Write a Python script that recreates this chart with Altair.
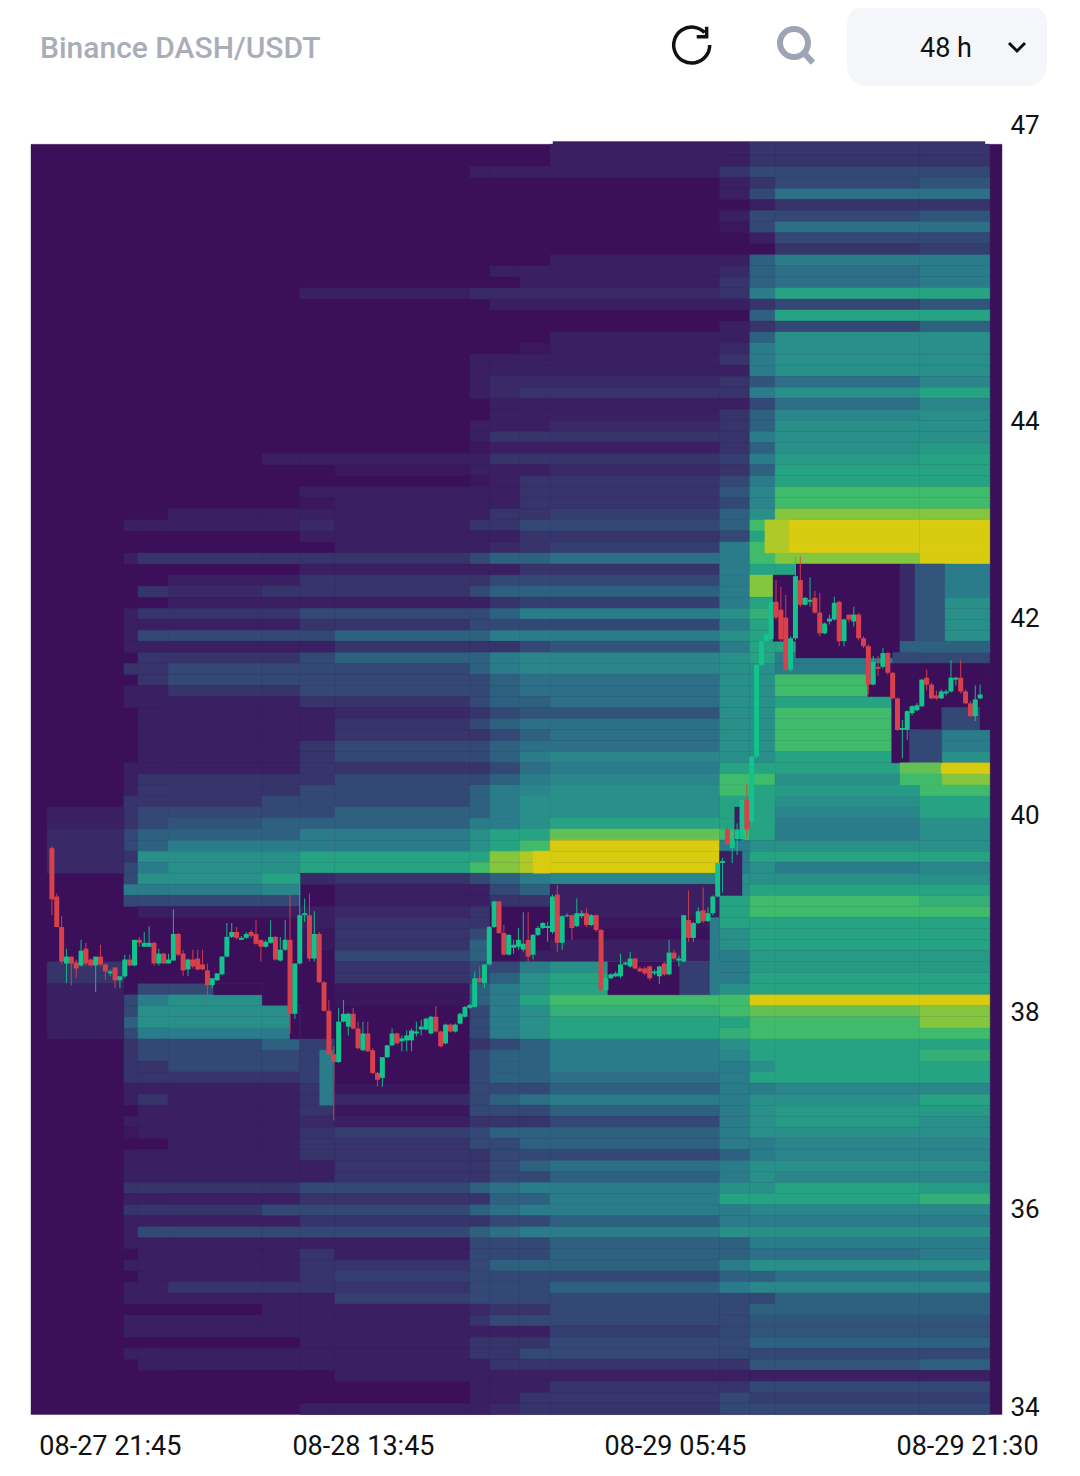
import altair as alt
import pandas as pd

alt.data_transformers.disable_max_rows()

# colour levels of the liquidity map
level_values = [0, 1, 2, 3, 4, 5, 6, 7, 8, 9, 10]
level_colors = ["#3b0f59", "#3a2062", "#37336b", "#334874", "#2e6180", "#2b7c8b", "#289088",
                "#25a382", "#40ba6b", "#85c63f", "#d9cb10"]

# time columns, in 15-minute candle numbers
col_edges = [14.8, 17.7, 23.9, 43.2, 51.0, 58.2, 86.0, 90.1, 96.3, 102.5, 137.4, 143.6, 148.8, 178.6, 193.0]
row_count = 115
top_price = 46.792
row_step = 0.11207

# one row per price band, top to bottom
heat_rows = [
[0,0,0,0,0,0,0,0,0,1,1,2,2,2],
[0,0,0,0,0,0,0,0,0,1,1,2,2,2],
[0,0,0,0,0,0,1,1,1,1,2,3,3,3],
[0,0,0,0,0,0,0,0,0,0,1,2,3,3.5],
[0,0,0,0,0,0,0,0,0,0,1,3,4.5,4.5],
[0,0,0,0,0,0,0,0,0,0,0,1,2,2],
[0,0,0,0,0,0,0,0,0,0,1,3,3,3.5],
[0,0,0,0,0,0,0,0,0,0,0.5,3,4.5,4.5],
[0,0,0,0,0,0,0,0,0,0,0,1,3,3],
[0,0,0,0,0,0,0,0,0,0,0,0,2,2.5],
[0,0,0,0,0,0,0,0,0,1,1,4,5,5],
[0,0,0,0,0,0,0,1,1,1,1.5,4,4.5,5],
[0,0,0,0,0,0,0,0,1,1,2,4,4.5,5],
[0,0,0,0,1,1,1.5,1.5,1.5,1.5,2,5,7,7],
[0,0,0,0,0,0,0,1,1,1,1,2,3,3.5],
[0,0,0,0,0,0,0,0,0,0,0,4,7,7],
[0,0,0,0,0,0,0,0,0,0,1,2,3,4],
[0,0,0,0,0,0,0,0,0,1,1,4,6,6],
[0,0,0,0,0,0,0,0,0.5,1,1.5,5,6,6],
[0,0,0,0,0,0,1,1,1,1,2,5,6,6],
[0,0,0,0,0,0,1,1,1,1,1,5,6,6],
[0,0,0,0,0,0,1,1.5,1.5,1.5,2,3.5,4.5,5.5],
[0,0,0,0,0,0,1,1.5,2,2,2,5,6,7],
[0,0,0,0,0,0,0,1,1,1,1,3,4.5,5.5],
[0,0,0,0,0,0,0,1,1,1,2,4,5.5,6],
[0,0,0,0,0,0,1,1,1,1.5,2,4,6,6],
[0,0,0,0,0,0,1,2,2,2,2,5,6,6],
[0,0,0,0,0,0,0.5,1,1,1,2,4,6,6.5],
[0,0,0,1,1,1,1,2,2,2,2.5,5,6.5,7],
[0,0,0,0,0,0.5,1,1,1,1.5,2,4,7,7],
[0,0,0,0,0,0,0.5,1,2,2,3,5,7,7],
[0,0,0,0,1,1,1,1,2,2,3.5,5.5,8,8],
[0,0,0,0,0.5,1,1,1,2,2,3,5.5,8,8],
[0,0,1,1,1,1,1,2,2,2.5,4,6,9,9],
[1,1,1,1,1.5,1,2,2,3,3,4,8,10,10],
[0,0,0,0,1,1,1,1,2,2,3,7,10,10],
[0,0,0,0,0,1,1,1.5,2,2.5,5,8,10,10],
[1,2,2,2,2,2,3,4,4,4.5,5,8,9,10],
[0,0,0,0,1,1,1,1,2,2,5,7,7,5],
[0,0,1,1,2,2,2,3,3,3,5,9,7,5],
[0,2,1.5,2,2,2,3,4,4,4,5,9,7,5],
[0,0,1,1,1,1,1,2,2.5,2.5,5,7,7,6],
[1,2,2,2,3,3,3,4,5,5,6,7.5,7,6],
[1,1,1,1,2,2,3,3,3,3,5,7,7,6],
[1,3,3,3,3,4,4,5,5,5,6,7,7,6],
[1,1,1,1,1,2,2,2,3,3.5,5,7,7,4],
[0,2,2,2,3,4,4,5,5.5,5.5,6,7,5,3],
[2,2,3,3,3,3,4,5,5.5,5.5,6,6,5,3],
[0,2,3,3,3,3,3,4,4.5,4.5,6,6,8,3],
[1,1,2,2,3,3,3,4,4.5,4.5,6,6,8,3],
[1,1,1,1,2,2,3,4,4,4.5,6,6,7,3],
[0,1,1,1,1,1.5,2,3,3.5,3.5,6,6,8,3],
[0,1,1,1,1,2,3,4,4.5,4.5,6,6,8,3],
[0,1,1,1,1,2,2,3,4,4.5,6,6,8,5],
[0,1,1,1,2,3,3,4,4.5,4.5,6,6,8,5],
[0,1,1,1,2,3,3,4,5,5.5,6,6,7,6],
[1,1,1,1,2,2,2,3,4.5,5,7,7,7,10],
[1,2,2,2,2,3,3,4,5,5.5,8,8,6,9],
[1,2,2,2,3,3,4,5,5.5,6,8,7,6.5,8],
[2,2,2,3,3,3,4,5,6,6,7,7,6,7],
[2,3,3,3,3,4,4,5,6,6,7,7,5.5,7],
[2,3,3.5,4,4,4,5,5,6,7,7,7,5,6],
[3,4,4,4,5,5,6,7,7,8.5,8,7,5,6],
[3,4,5,5,5,5,6,7,8,10,5,6,6,6],
[2,6,6,6,7,7,7,9,9.5,10,5,7,7,7],
[3,5,6,6,7,7,8,9,9.5,10,5,6,5,5.5],
[3,6,6,7,1.5,2,3,4,5,5.5,6,6,6,6],
[5,5,5,5.5,0,1,1,3,4,1,6,7,7,7],
[3,3,3,3,0,1,1,2,2,1,7,8,8,7.5],
[0,1,1,1,1,1.5,2,0,0,1,7,8,8,8],
[0,0,0,0,1,2,2,0,0,0.5,7,7,7,7],
[0,0,0,0,0.5,2,3,0,0,0,6,7,7,7],
[0,0,0,0,0.5,2,4,0,0,1,6,7,7,7],
[0,0,0,0,0,3,4,0,1,1,5,6.5,6.5,6.5],
[0,0,0,0,0,2,3,3,5,6,5,6.5,6.5,6.5],
[0,0,0,0,0,2,3,4,6,7,5,7,7,7],
[0,3,3,0,0,0.5,4,5,6,7,6,7,7,7],
[3,5,6,0,0,0.5,4,5,7,8,8,10,10,10],
[3,6,6,6,0,0,3,5,6,7.5,8,8.5,8.5,9],
[4,6,6,6,0,0,3,5,6,7,7,8,8,9],
[3,5,5,5,0,0,3,5,6,7,7.5,8,8,8],
[2,3,3,4,2.5,0,2,3,4,5,6,7,7,7],
[2,3,3,3,2.5,0,3,4,4,5,5.5,7,7,7.5],
[2,2,3,3,2.5,0,3,4,4,5,5,6,7,7],
[2,2,2,2,2.5,0,3,4,4,4.5,5,7,7,7],
[1,1,1,1,2,0.5,3,3,3,4,5,5,5.5,5.5],
[1,2,1,1,2,1.5,3,4,4.5,5,5,6,6,7],
[0,1,1,1,2,0.5,3,3,3,4,5,6,6.5,6.5],
[1,1,1,1,1.5,1,2,2,2,3,5,6,6.5,6],
[0.5,1,1,1,2,2.5,3,4,4,4,5,6,6,6],
[0,0,1,1,2,2,3,3,4,4,5,5,5.5,5.5],
[1,1,1,1,2,2,2,3,3,3,4,5,5.5,5.5],
[1,1,1,1,1,2,2,3,4,4.5,5,6,6,6],
[1,1,1,1,1,2,2,3,3,4,5,6,5.5,5.5],
[2,2,2,2,3,3,4,4.5,5,5,6,6,7,6.5],
[1,1,1,1,2,2,2,4,4,5,7,7,7,7.5],
[2,2,2,3,3,3,4,4.5,5,5,5,5.5,5.5,5.5],
[1,1,1,1,2,2,2,3,3,4,5,5,5,5],
[1,3,3,3,3,3,4,4.5,5,5,6,6,6,6],
[1,1,1,1,1,1,3,3,3,4,4,5,5,5],
[0,1,1,1,2,1,3,3,3,4,4,4.5,4.5,5],
[1,1,1,1,2,2,3,4,4,4,5,6,6,6],
[0,1,1,1,2,2.5,3,3,3,3,4,4,4.5,4.5],
[1,1,2,2,2,2,3,3,3,4,5,5.5,5.5,5.5],
[1,1,1,1,1,2.5,3,3,3,3,3,3,4,4],
[0,0,0,1,1,1,1.5,2,2,3,3,4,4,4],
[1,1,1,1,1,1,2,3,3,3,3,3.5,3.5,3.5],
[1,1,1,1,1,1,1,1,1,2.5,3,3.5,3.5,3.5],
[0,0,0,0,1,1,2,2,2,3,3,4,4,4],
[1,1,1,1,1,1,2,2,3,3,3,3,3,3],
[0,1,1,1,1,1,1,2,2,2,2,3.5,3.5,4],
[0,0,0,0,0,1,1,1,1,1,1,1,1,1],
[0,0,0,0,0,0,1,1,1,2,2,3,3,3],
[0,0,0,0,0,0,1,1,2,2,3,2.5,2.5,2.5],
[0,0,0,0,1,1,1,1.5,2,2,3,3,3,3],
]

# local areas on top of the columns: first candle, last candle, first row, last row, level
patch_x0 = [-4.3, 103.1, 143.6, -1, -1, -1, -1, 33.3, 49, 99, 114.4, 129.2, 135.4, 137.4, 140.5, 148.8, 146.7, 153.1,
            148.4, 174.5, 177.6, 174.5, 173, 167.9, 172.8, 172.8, 183.1, 191, 172.8, 176.5, 174.5, 174.5, 55.1]
patch_x1 = [195.5, 143.6, 192, 14.8, 14.8, 14.8, 14.8, 43.2, 51, 102.5, 129.2, 135.4, 137.4, 142, 142.2, 148.8, 151.6, 174.5,
            153.1, 177.6, 183.7, 193, 178.6, 172.8, 193, 183.1, 191, 193, 176.5, 183.1, 182.9, 183.1, 57.8]
patch_r0 = [0, -0.25, -0.25, 60, 62, 74, 76, 76, 78, 64, 74, 74, 70, 64, 60, 39, 34, 38,
            39, 38, 38, 45, 46, 47, 47, 51, 51, 51, 53, 53, 56, 57, 82]
patch_r1 = [115, 0, 0, 62, 66, 76, 81, 77, 81, 66, 77, 77, 77, 68, 63, 41, 37, 46.5,
            45, 45, 45, 46, 47, 50, 51, 53, 53, 53, 56, 56, 57, 58, 87]
patch_level = [0, 1, 2, 1, 1.5, 2, 1, 0, 0, 10, 0, 2.5, 5, 1, 1, 9, 9.5, 0,
               0, 1.5, 3.5, 4, 3, 0, 0, 0, 3, 0, 0, 3, 8.5, 8, 5]

# 15-minute candles
candle_open = [39.65,39.16,38.85,38.48,38.55,38.49,38.46,38.63,38.52,38.46,38.55,38.47,38.38,38.44,38.31,38.35,
38.52,38.46,38.72,38.65,38.65,38.69,38.48,38.58,38.48,38.51,38.78,38.58,38.42,38.52,38.53,38.47,
38.41,38.26,38.31,38.37,38.55,38.75,38.80,38.72,38.74,38.80,38.78,38.72,38.65,38.69,38.75,38.51,
38.62,38.72,37.97,38.48,38.97,38.97,38.53,38.78,38.29,38.00,37.56,37.48,37.89,37.84,37.97,37.82,
37.60,37.77,37.60,37.37,37.32,37.53,37.65,37.77,37.69,37.70,37.70,37.77,37.81,37.81,37.77,37.94,
37.79,37.67,37.86,37.79,37.87,37.94,38.03,38.04,38.33,38.28,38.47,38.85,39.11,38.79,38.57,38.64,
38.65,38.62,38.72,38.57,38.77,38.84,38.84,38.80,39.18,38.69,38.96,38.97,38.86,38.96,38.99,38.87,
38.97,38.82,38.21,38.33,38.35,38.35,38.47,38.45,38.53,38.43,38.43,38.45,38.38,38.35,38.48,38.37,
38.59,38.51,38.50,38.92,38.74,38.89,39.02,38.91,38.99,39.16,39.50,39.84,39.65,39.74,39.74,40.14,
39.92,40.58,41.51,41.75,41.77,42.15,42.07,41.99,41.46,41.78,42.37,42.12,42.15,42.19,42.04,41.83,
41.95,41.97,42.15,41.75,42.02,41.95,42.02,41.78,41.70,41.31,41.49,41.49,41.63,41.43,41.17,40.85,
40.85,41.02,41.05,41.09,41.38,41.31,41.20,41.17,41.22,41.24,41.36,41.38,41.24,41.12,40.99,41.17]
candle_close = [39.13,38.85,38.50,38.55,38.48,38.43,38.61,38.48,38.46,38.55,38.47,38.40,38.40,38.31,38.35,38.52,
38.46,38.72,38.69,38.69,38.69,38.48,38.58,38.48,38.52,38.78,38.57,38.41,38.52,38.45,38.42,38.42,
38.26,38.33,38.38,38.55,38.75,38.80,38.74,38.74,38.78,38.76,38.68,38.65,38.70,38.75,38.52,38.62,
38.72,37.97,38.48,38.97,38.99,38.53,38.78,38.29,38.00,37.56,37.48,37.89,37.97,37.97,37.82,37.62,
37.77,37.59,37.37,37.30,37.53,37.65,37.77,37.67,37.72,37.75,37.80,37.79,37.84,37.92,37.94,37.79,
37.64,37.86,37.79,37.86,37.97,38.04,38.06,38.33,38.29,38.47,38.85,39.11,38.79,38.57,38.77,38.67,
38.72,38.68,38.55,38.77,38.84,38.89,38.86,39.16,38.69,38.96,38.97,38.84,38.99,38.99,38.87,38.97,
38.82,38.21,38.33,38.37,38.38,38.47,38.49,38.53,38.43,38.40,38.38,38.33,38.40,38.45,38.37,38.59,
38.53,38.53,38.97,38.74,38.89,39.01,38.91,38.99,39.16,39.50,39.52,39.69,39.74,39.84,40.14,39.84,
40.58,41.51,41.75,41.82,42.15,41.99,41.77,41.46,41.78,42.41,42.12,42.19,42.17,42.04,41.83,41.93,
41.98,42.14,41.75,41.97,41.97,42.02,41.78,41.70,41.31,41.54,41.47,41.63,41.43,41.17,40.85,40.87,
41.04,41.09,41.10,41.36,41.31,41.17,41.17,41.24,41.24,41.38,41.38,41.24,41.12,40.99,41.16,41.21]
candle_high = [39.67,39.19,38.96,38.63,38.55,38.52,38.72,38.69,38.53,38.55,38.67,38.48,38.42,38.44,38.35,38.57,
38.57,38.72,38.75,38.80,38.86,38.70,38.63,38.59,38.58,39.03,38.79,38.62,38.53,38.62,38.62,38.62,
38.48,38.33,38.38,38.55,38.89,38.89,38.85,38.76,38.80,38.82,38.92,38.72,38.72,38.92,38.76,38.75,
38.92,39.18,38.48,39.39,39.14,39.19,39.01,38.80,38.30,38.11,37.64,38.03,38.11,37.98,38.03,37.89,
37.89,37.89,37.62,37.38,37.53,37.65,37.82,37.78,37.75,37.80,37.82,37.89,37.91,37.93,37.95,38.05,
37.80,37.87,37.87,37.87,37.98,38.05,38.07,38.40,38.45,38.47,38.86,39.12,39.12,38.87,38.78,38.72,
38.84,39.00,39.00,38.78,38.86,38.90,38.90,39.18,39.28,38.97,38.99,38.98,39.14,39.02,39.04,38.98,
38.98,38.83,38.34,38.38,38.40,38.58,38.50,38.60,38.54,38.45,38.45,38.46,38.42,38.46,38.50,38.72,
38.62,38.56,38.97,39.22,38.90,39.05,39.25,39.05,39.17,39.50,39.55,39.88,39.75,39.90,40.14,40.30,
40.58,41.52,41.76,41.83,42.18,42.37,42.30,42.22,41.80,42.61,42.61,42.20,42.40,42.26,42.24,41.94,
42.02,42.20,42.16,41.98,41.99,42.10,42.04,41.80,41.72,41.60,41.60,41.68,41.64,41.44,41.18,40.95,
41.05,41.10,41.12,41.37,41.46,41.33,41.25,41.26,41.26,41.56,41.39,41.56,41.26,41.14,41.30,41.31]
candle_low = [38.97,38.85,38.48,38.28,38.26,38.33,38.45,38.46,38.45,38.19,38.45,38.31,38.35,38.23,38.23,38.33,
38.45,38.45,38.65,38.65,38.65,38.46,38.46,38.48,38.48,38.51,38.55,38.35,38.35,38.43,38.41,38.41,
38.06,38.23,38.30,38.36,38.54,38.74,38.72,38.72,38.73,38.74,38.67,38.50,38.64,38.68,38.51,38.50,
38.61,37.77,37.92,38.47,38.90,38.50,38.50,38.28,37.99,37.55,36.89,37.47,37.88,37.75,37.81,37.61,
37.59,37.58,37.36,37.23,37.23,37.52,37.64,37.66,37.59,37.59,37.59,37.74,37.75,37.80,37.76,37.78,
37.63,37.66,37.78,37.78,37.86,37.93,38.02,38.03,38.28,38.23,38.46,38.84,38.78,38.56,38.56,38.58,
38.62,38.60,38.50,38.52,38.76,38.83,38.70,38.78,38.60,38.62,38.95,38.72,38.85,38.94,38.85,38.86,
38.80,38.20,38.20,38.32,38.34,38.33,38.46,38.44,38.42,38.39,38.36,38.31,38.36,38.27,38.35,38.36,
38.52,38.45,38.49,38.70,38.70,38.88,38.89,38.90,38.97,39.15,39.20,39.67,39.50,39.58,39.72,39.75,
39.90,40.56,41.50,41.74,41.76,41.97,41.75,41.44,41.44,41.76,42.10,42.11,42.10,42.03,41.80,41.82,
41.92,41.96,41.70,41.70,41.94,41.90,41.76,41.68,41.21,41.30,41.40,41.47,41.41,41.16,40.84,40.56,
40.75,41.00,41.04,41.08,41.25,41.16,41.15,41.16,41.20,41.23,41.30,41.22,41.11,40.98,40.94,41.16]

# axes
x_tick_values = [11.93, 64.0, 128.2, 188.3]
x_tick_labels = ["08-27 21:45", "08-28 13:45", "08-29 05:45", "08-29 21:30"]
y_tick_values = [34, 36, 38, 40, 42, 44, 47]

# heat table
edges = [top_price - row_step * r for r in range(row_count + 1)]


def price_at(r):
    return top_price - row_step * r


heat = []
heat.append(dict(x0=patch_x0[0], x1=patch_x1[0], p0=price_at(patch_r0[0]), p1=price_at(patch_r1[0]), level=patch_level[0]))
for r, row in enumerate(heat_rows):
    for c, lev in enumerate(row):
        if lev > 0:
            heat.append(dict(x0=col_edges[c], x1=col_edges[c + 1], p0=edges[r], p1=edges[r + 1], level=lev))
for x0, x1, r0, r1, lev in zip(patch_x0[1:], patch_x1[1:], patch_r0[1:], patch_r1[1:], patch_level[1:]):
    if x1 > x0:
        heat.append(dict(x0=x0, x1=x1, p0=price_at(r0), p1=price_at(r1), level=lev))
heat_df = pd.DataFrame(heat)

n = min(len(candle_open), len(candle_close), len(candle_high), len(candle_low))
candles = pd.DataFrame({
    "i": list(range(n)),
    "open": candle_open[:n], "close": candle_close[:n],
    "high": candle_high[:n], "low": candle_low[:n],
})
candles["dir"] = ["up" if c >= o else "down" for o, c in zip(candles["open"], candles["close"])]

label_expr = "".join(
    f"datum.value < {v + 1} ? '{t}' : " for v, t in zip(x_tick_values[:-1], x_tick_labels[:-1])
) + f"'{x_tick_labels[-1]}'"

AXIS_FONT = "Roboto"
x_scale = alt.Scale(domain=[-4.3, 195.5], nice=False, zero=False, padding=0)
y_scale = alt.Scale(domain=[33.904, 47.14], nice=False, zero=False, padding=0)
color_scale = alt.Scale(domain=level_values, range=level_colors, interpolate="rgb")
dir_scale = alt.Scale(domain=["up", "down"], range=["#12c48b", "#d8414b"])

x_axis = alt.Axis(
    values=x_tick_values, labelExpr=label_expr, domain=False, ticks=False, grid=False, title=None,
    labelFont=AXIS_FONT, labelFontSize=27, labelColor="#111111", labelPadding=19,
    labelOverlap=False, labelBound=False, labelFlush=False)
y_axis = alt.Axis(
    orient="right", values=y_tick_values, format="d", domain=False, ticks=False, grid=False, title=None,
    labelFont=AXIS_FONT, labelFontSize=26, labelColor="#111111", labelPadding=8, labelOffset=2,
    labelOverlap=False, labelBound=False, labelFlush=False)

heat_layer = alt.Chart(heat_df).mark_rect(strokeWidth=0.4).encode(
    x=alt.X("x0:Q", scale=x_scale, axis=x_axis),
    x2="x1:Q",
    y=alt.Y("p0:Q", scale=y_scale, axis=y_axis),
    y2="p1:Q",
    color=alt.Color("level:Q", scale=color_scale, legend=None),
    stroke=alt.Color("level:Q", scale=color_scale, legend=None),
)

wicks = alt.Chart(candles).mark_rule(strokeWidth=1.1, opacity=0.85).encode(
    x=alt.X("i:Q", scale=x_scale, axis=x_axis),
    y=alt.Y("low:Q", scale=y_scale, axis=y_axis),
    y2="high:Q",
    color=alt.Color("dir:N", scale=dir_scale, legend=None),
)
bodies = alt.Chart(candles).mark_bar(size=5).encode(
    x=alt.X("i:Q", scale=x_scale, axis=x_axis),
    y=alt.Y("open:Q", scale=y_scale, axis=y_axis),
    y2="close:Q",
    color=alt.Color("dir:N", scale=dir_scale, legend=None),
)

one = pd.DataFrame({"a": [1]})
# page header: view origin is at page pixel (31, 110)
title_mark = alt.Chart(pd.DataFrame({"t": ["Binance DASH/USDT"]})).mark_text(
    align="left", baseline="middle", font=AXIS_FONT, fontSize=30, fontWeight=500, color="#a9adb8"
).encode(text="t:N", x=alt.value(9), y=alt.value(-61))
box_mark = alt.Chart(one).mark_rect(color="#f4f6f9", cornerRadius=20).encode(
    x=alt.value(816), x2=alt.value(1016), y=alt.value(-106), y2=alt.value(-24))
range_mark = alt.Chart(pd.DataFrame({"t": ["48 h"]})).mark_text(
    align="center", baseline="middle", font=AXIS_FONT, fontSize=27, color="#111111"
).encode(text="t:N", x=alt.value(915), y=alt.value(-61))
chevron = alt.Chart(one).mark_point(
    shape="M -1 -0.5 L 0 0.5 L 1 -0.5", size=256, filled=False, stroke="#111111", strokeWidth=3, opacity=1
).encode(x=alt.value(986), y=alt.value(-63))
refresh = alt.Chart(one).mark_point(
    shape="M 0.72 -0.69 A 1 1 0 1 0 1 0 M 0.83 -1.02 L 0.83 -0.46 L 0.28 -0.46", size=1296, filled=False,
    stroke="#111111", strokeWidth=3.5, opacity=1
).encode(x=alt.value(660.7), y=alt.value(-65))
lens = alt.Chart(one).mark_point(
    shape="M 1 0 A 1 1 0 1 1 -1 0 A 1 1 0 1 1 1 0 M 0.75 0.75 L 1.35 1.4", size=784, filled=False,
    stroke="#9da4b4", strokeWidth=6, opacity=1
).encode(x=alt.value(763), y=alt.value(-67))

chart = alt.layer(
    heat_layer, wicks, bodies, title_mark, box_mark, range_mark, chevron, refresh, lens
).resolve_scale(color="independent").properties(
    width=971, height=1304.5,
    padding={"left": 23, "top": 102, "right": 70, "bottom": 53},
    autosize=alt.AutoSizeParams(type="none"),
    background="white",
).configure_view(stroke=None)

chart.save("out.html", embed_options={"renderer": "svg", "actions": False})
